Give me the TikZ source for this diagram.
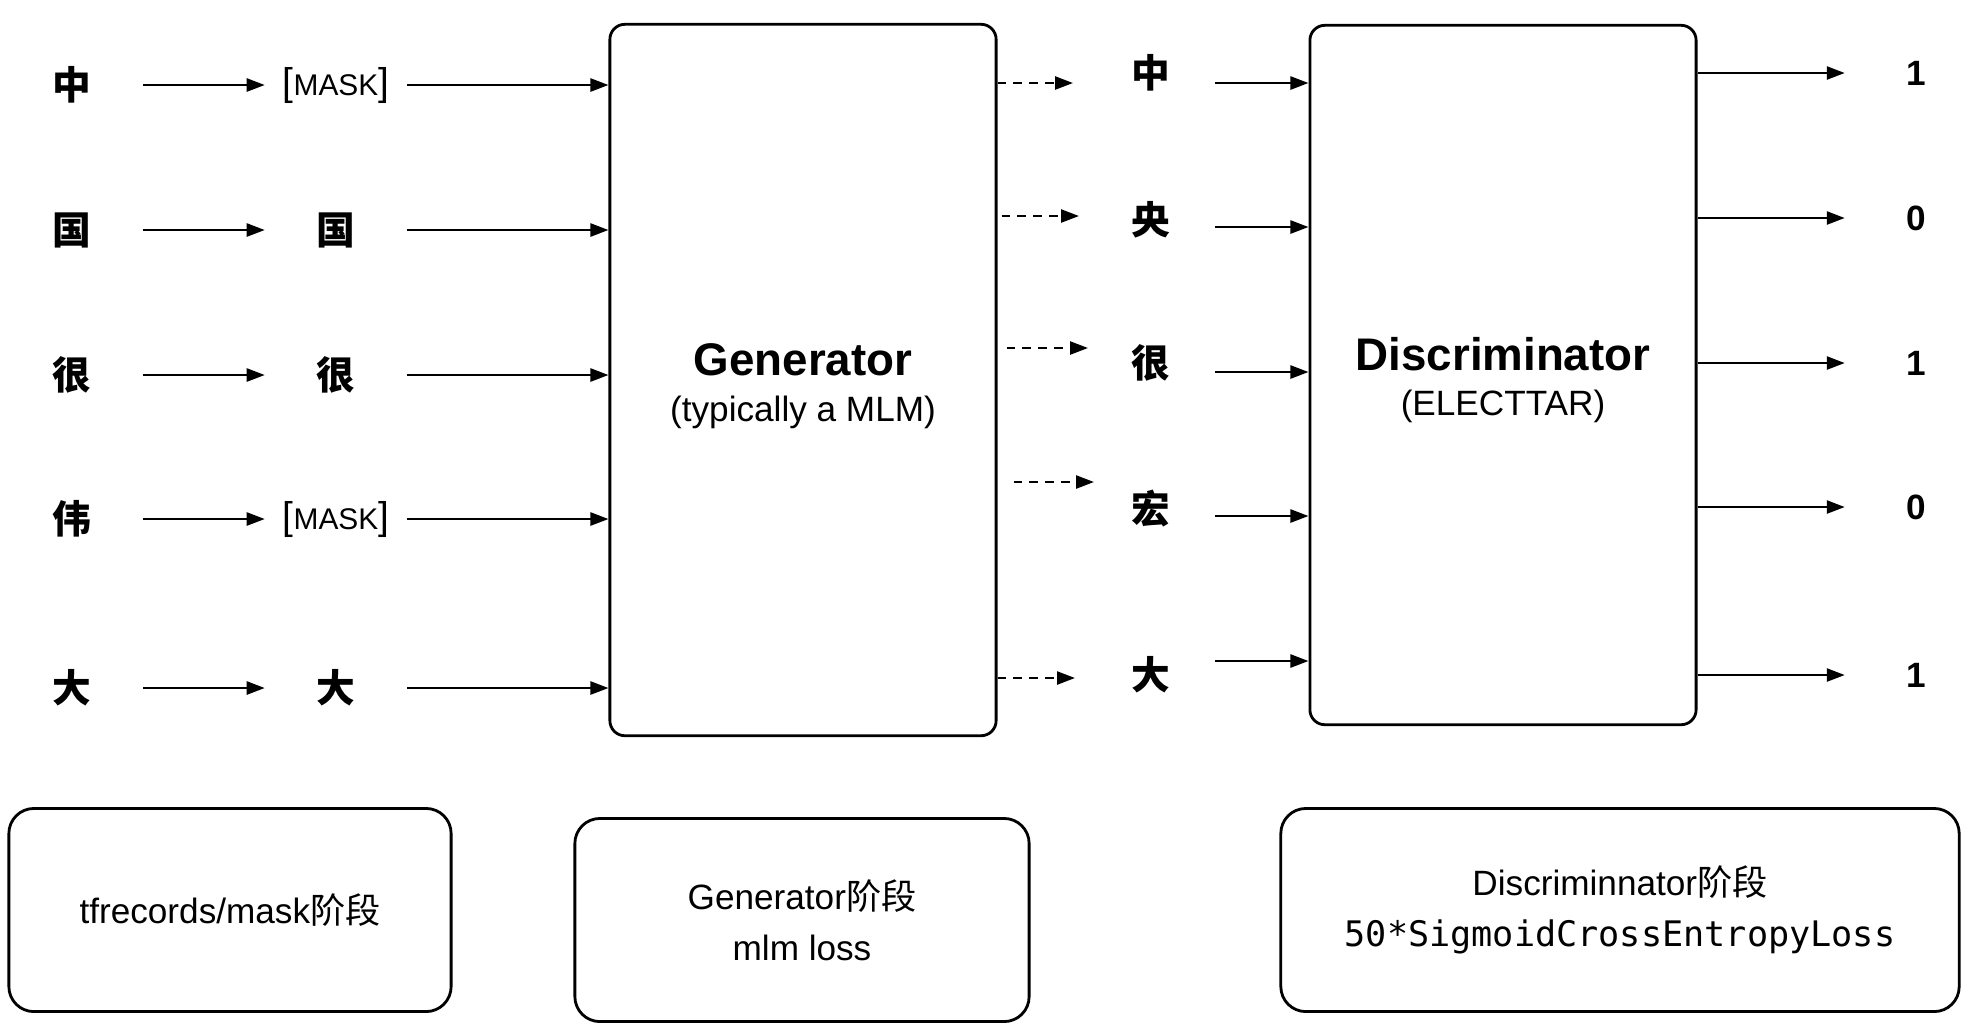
\documentclass[tikz,border=0pt]{standalone}
\usepackage{fontspec}
\setmainfont{Liberation Sans}
\newfontfamily\cjk{Noto Sans CJK SC}
\newfontfamily\codefont{DejaVu Sans Mono}
\usetikzlibrary{arrows.meta,calc}
\newcommand{\masktok}{{\fontsize{11}{13}\selectfont[}MASK{\fontsize{11}{13}\selectfont]}}
\tikzset{
  tokchar/.style={rectangle, minimum width=1.13cm, inner sep=0pt,
    font=\cjk\bfseries\fontsize{11}{13}\selectfont},
  masknode/.style={tokchar, font=\fontsize{8.5}{10}\selectfont},
  labelnode/.style={tokchar, font=\bfseries\fontsize{10}{12}\selectfont},
  modelbox/.style={rectangle, draw=black, line width=0.8pt, rounded corners=0.15cm,
    minimum width=3.86cm},
  modeltitle/.style={align=center, inner sep=0pt, font=\fontsize{10}{13}\selectfont},
  stagebox/.style={rectangle, draw=black, line width=0.8pt, rounded corners=0.25cm,
    minimum height=2.03cm, align=center, font=\fontsize{10}{14.5}\selectfont},
  flowarrow/.style={-{Triangle[length=1.8mm,width=1.3mm]}, draw=black, line width=0.7pt},
  samplearrow/.style={flowarrow, dash pattern=on 2.5pt off 2pt},
}

\begin{document}
\begin{tikzpicture}[x=0.01cm, y=-0.01cm]
  \useasboundingbox (0,0) rectangle (1979,1035);

  % ============ Input tokens (x = 72) ============
  \node[tokchar] (in1) at (72, 85)  {中};
  \node[tokchar] (in2) at (72, 230) {国};
  \node[tokchar] (in3) at (72, 375) {很};
  \node[tokchar] (in4) at (72, 519) {伟};
  \node[tokchar] (in5) at (72, 688) {大};

  % ============ Masked tokens (x = 336) ============
  \node[masknode] (mk1) at (336, 85)  {\masktok};
  \node[tokchar]  (mk2) at (336, 230) {国};
  \node[tokchar]  (mk3) at (336, 375) {很};
  \node[masknode] (mk4) at (336, 519) {\masktok};
  \node[tokchar]  (mk5) at (336, 688) {大};

  % ============ Models ============
  \node[modelbox, minimum height=7.11cm] (gen)  at (803, 380) {};
  \node[modelbox, minimum height=6.99cm] (disc) at (1503, 375) {};
  \node[modeltitle] (gentitle) at (803, 386)
    {{\fontsize{13}{13}\selectfont\bfseries Generator}\\(typically a MLM)};
  \node[modeltitle] (disctitle) at (1503, 380)
    {{\fontsize{13}{13}\selectfont\bfseries Discriminator}\\(ELECTTAR)};

  % ============ Sampled tokens (x = 1151) ============
  \node[tokchar] (r1) at (1151, 73)  {中};
  \node[tokchar] (r2) at (1151, 220) {央};
  \node[tokchar] (r3) at (1151, 363) {很};
  \node[tokchar] (r4) at (1151, 509) {宏};
  \node[tokchar] (r5) at (1151, 675) {大};

  % ============ Replaced / original labels (x = 1916) ============
  \node[labelnode] (o1) at (1916, 73)  {1};
  \node[labelnode] (o2) at (1916, 218) {0};
  \node[labelnode] (o3) at (1916, 363) {1};
  \node[labelnode] (o4) at (1916, 507) {0};
  \node[labelnode] (o5) at (1916, 675) {1};

  % ============ Stage boxes (bottom row) ============
  \node[stagebox, minimum width=4.42cm] (stage1) at (230, 910)
    {tfrecords/mask{\cjk 阶段}};
  \node[stagebox, minimum width=4.54cm] (stage2) at (802, 920)
    {Generator{\cjk 阶段}\\mlm loss};
  \node[stagebox, minimum width=6.78cm] (stage3) at (1620, 910)
    {Discriminnator{\cjk 阶段}\\{\codefont 50*SigmoidCrossEntropyLoss}};

  % ============ Masking ============
  \draw[flowarrow, shorten <=0.14cm, shorten >=0.14cm] (in1) -- (mk1);
  \draw[flowarrow, shorten <=0.14cm, shorten >=0.14cm] (in2) -- (mk2);
  \draw[flowarrow, shorten <=0.14cm, shorten >=0.14cm] (in3) -- (mk3);
  \draw[flowarrow, shorten <=0.14cm, shorten >=0.14cm] (in4) -- (mk4);
  \draw[flowarrow, shorten <=0.14cm, shorten >=0.14cm] (in5) -- (mk5);

  % ============ Into the generator ============
  \draw[flowarrow, shorten <=0.14cm] (mk1) -- (mk1 -| gen.west);
  \draw[flowarrow, shorten <=0.14cm] (mk2) -- (mk2 -| gen.west);
  \draw[flowarrow, shorten <=0.14cm] (mk3) -- (mk3 -| gen.west);
  \draw[flowarrow, shorten <=0.14cm] (mk4) -- (mk4 -| gen.west);
  \draw[flowarrow, shorten <=0.14cm] (mk5) -- (mk5 -| gen.west);

  % ============ Sampling (dashed, loose ends) ============
  \coordinate (dz1) at (1073, 83);
  \coordinate (dz2) at (1079, 216);
  \coordinate (dz3) at (1088, 348);
  \coordinate (dz4) at (1094, 482);
  \coordinate (dz5) at (1075, 678);
  \draw[samplearrow] (gen.east |- dz1) -- (dz1);
  \draw[samplearrow, shorten <=0.04cm] (gen.east |- dz2) -- (dz2);
  \draw[samplearrow, shorten <=0.09cm] (gen.east |- dz3) -- (dz3);
  \draw[samplearrow, shorten <=0.16cm] (gen.east |- dz4) -- (dz4);
  \draw[samplearrow] (gen.east |- dz5) -- (dz5);

  % ============ Into the discriminator ============
  \draw[flowarrow] ($(r1.east)+(7,10)$) -- ($(r1 -| disc.west)+(0,10)$);
  \draw[flowarrow] ($(r2.east)+(7,7)$)  -- ($(r2 -| disc.west)+(0,7)$);
  \draw[flowarrow] ($(r3.east)+(7,9)$)  -- ($(r3 -| disc.west)+(0,9)$);
  \draw[flowarrow] ($(r4.east)+(7,7)$)  -- ($(r4 -| disc.west)+(0,7)$);
  \draw[flowarrow] ($(r5.east)+(7,-14)$) -- ($(r5 -| disc.west)+(0,-14)$);

  % ============ Outputs ============
  \draw[flowarrow, shorten >=0.14cm] (o1 -| disc.east) -- (o1);
  \draw[flowarrow, shorten >=0.14cm] (o2 -| disc.east) -- (o2);
  \draw[flowarrow, shorten >=0.14cm] (o3 -| disc.east) -- (o3);
  \draw[flowarrow, shorten >=0.14cm] (o4 -| disc.east) -- (o4);
  \draw[flowarrow, shorten >=0.14cm] (o5 -| disc.east) -- (o5);

\end{tikzpicture}
\end{document}
